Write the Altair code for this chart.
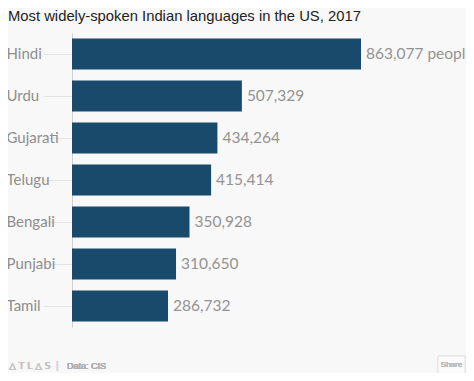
import altair as alt
import pandas as pd

languages = ["Hindi", "Urdu", "Gujarati", "Telugu", "Bengali", "Punjabi", "Tamil"]
speakers = [863077, 507329, 434264, 415414, 350928, 310650, 286732]
unit_suffix = [" people", "", "", "", "", "", ""]

df = pd.DataFrame({"language": languages, "speakers": speakers})
df["label"] = [f"{v:,}{s}" for v, s in zip(speakers, unit_suffix)]

LABEL_FONT = "Lato"
BG = "#f8f8f8"

x = alt.X("speakers:Q", axis=None, scale=alt.Scale(domain=[0, max(speakers)], nice=False, zero=True))
y = alt.Y(
    "language:N",
    sort=languages,
    title=None,
    scale=alt.Scale(paddingInner=0.26, paddingOuter=0.13),
    axis=alt.Axis(
        labelAlign="left",
        labelPadding=37,
        tickSize=29,
        tickColor="#e4e4e4",
        domainColor="#d0d0d0",
        labelColor="#8e8e8e",
        labelFont=LABEL_FONT,
        labelFontSize=15,
        grid=False,
    ),
)

bars = alt.Chart(df).mark_bar(color="#194a6c").encode(x=x, y=y)
values = alt.Chart(df).mark_text(
    align="left", baseline="middle", dx=5, fontSize=15.5, font=LABEL_FONT, color="#939393"
).encode(x=x, y=y, text="label:N")

footer_logo = alt.Chart(df).mark_text(
    align="left", baseline="middle", fontSize=9, font="DejaVu Sans", color="#c4c4c4"
).encode(x=alt.value(-63), y=alt.value(333), text=alt.value("△ T L △ S"))
footer_sep = alt.Chart(df).mark_text(
    align="left", baseline="middle", fontSize=10, font="Liberation Sans", color="#d6d6d6"
).encode(x=alt.value(-16), y=alt.value(333), text=alt.value("|"))
footer_src = alt.Chart(df).mark_text(
    align="left", baseline="middle", fontSize=9, font="Liberation Sans", color="#b0b0b0"
).encode(x=alt.value(-5), y=alt.value(333), text=alt.value("Data: CIS"))
share_box = alt.Chart(df).mark_rect(fill="#fbfbfb", stroke="#e4e4e4", strokeWidth=1).encode(
    x=alt.value(366), x2=alt.value(393), y=alt.value(323), y2=alt.value(341)
)
share_txt = alt.Chart(df).mark_text(
    align="center", baseline="middle", fontSize=8, font="Liberation Sans", color="#bdbdbd"
).encode(x=alt.value(379.5), y=alt.value(332), text=alt.value("Share"))

chart = (
    alt.layer(bars, values, footer_logo, footer_sep, footer_src, share_box, share_txt)
    .properties(
        width=289,
        height=294,
        autosize=alt.AutoSizeParams(type="none"),
        padding={"left": 64, "top": 25, "right": 105, "bottom": 46},
        background=BG,
        title=alt.TitleParams(
            "Most widely-spoken Indian languages in the US, 2017",
            anchor="start",
            frame="group",
            dx=-64,
            offset=9,
            font="Liberation Sans",
            fontSize=14.8,
            fontWeight="normal",
            color="#222222",
        ),
    )
    .configure_view(stroke=None)
)

chart.save("out.html", embed_options={"renderer": "svg", "actions": False})
